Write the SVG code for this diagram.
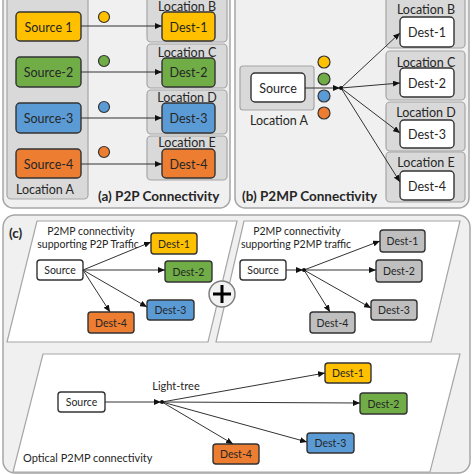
<svg xmlns="http://www.w3.org/2000/svg" width="474" height="474" viewBox="0 0 474 474">
<defs>
<marker id="ah" markerUnits="userSpaceOnUse" markerWidth="8" markerHeight="6" refX="7" refY="3" orient="auto">
<path d="M0,0 L7,3 L0,6 z" fill="#111"/>
</marker>
<style>
text{font-family:Lato,"Liberation Sans",sans-serif;fill:#262626;text-anchor:middle;dominant-baseline:central}
.panel{fill:#f0f0f0;stroke:#a6a6a6;stroke-width:1.5}
.loc{fill:#d9d9d9;stroke:#a6a6a6;stroke-width:1.2}
.box{stroke:#333;stroke-width:1.4}
.y{fill:#ffc000}.g{fill:#70ad47}.b{fill:#5b9bd5}.o{fill:#ed7d31}.w{fill:#fff}.gr{fill:#bfbfbf}
.para{fill:#fff;stroke:#a6a6a6;stroke-width:1.2}
.c line{stroke:#333;stroke-width:1;marker-end:url(#ah)}
.t12{font-size:12.5px}.t10{font-size:10.5px}.t11{font-size:11px}
.bold{font-weight:bold;font-size:13.5px;text-anchor:start}
</style>
</defs>
<rect width="474" height="474" fill="#ffffff"/>
<!-- Panel (a) -->
<g id="panelA">
<rect class="panel" x="3" y="-12" width="227" height="220" rx="10"/>
<text class="bold" x="98" y="196">(a) P2P Connectivity</text>
</g>
<g id="a-locA"><rect class="loc" x="7" y="-6" width="81" height="205" rx="4"/><text class="t12" x="45" y="189">Location A</text></g>
<g id="a-locB"><rect class="loc" x="147" y="-6" width="80" height="48" rx="4"/><text class="t12" x="187" y="6">Location B</text></g>
<g id="a-locC"><rect class="loc" x="147" y="44" width="80" height="44" rx="4"/><text class="t12" x="187" y="52">Location C</text></g>
<g id="a-locD"><rect class="loc" x="147" y="90" width="80" height="44" rx="4"/><text class="t12" x="187" y="97">Location D</text></g>
<g id="a-locE"><rect class="loc" x="147" y="136" width="80" height="44" rx="4"/><text class="t12" x="187" y="142">Location E</text></g>
<g id="a-src1"><rect class="box y" x="16" y="12" width="65" height="29" rx="4"/><text class="t12" x="48.5" y="27">Source 1</text></g>
<g id="a-src2"><rect class="box g" x="16" y="57" width="65" height="30" rx="4"/><text class="t12" x="48.5" y="72">Source-2</text></g>
<g id="a-src3"><rect class="box b" x="16" y="103" width="65" height="30" rx="4"/><text class="t12" x="48.5" y="118">Source-3</text></g>
<g id="a-src4"><rect class="box o" x="16" y="149" width="65" height="29" rx="4"/><text class="t12" x="48.5" y="164">Source-4</text></g>
<g id="a-dst1"><rect class="box y" x="162" y="12" width="53" height="29" rx="4"/><text class="t12" x="188.5" y="27">Dest-1</text></g>
<g id="a-dst2"><rect class="box g" x="162" y="58" width="53" height="29" rx="4"/><text class="t12" x="188.5" y="72">Dest-2</text></g>
<g id="a-dst3"><rect class="box b" x="162" y="103" width="53" height="30" rx="4"/><text class="t12" x="188.5" y="118">Dest-3</text></g>
<g id="a-dst4"><rect class="box o" x="162" y="149" width="53" height="29" rx="4"/><text class="t12" x="188.5" y="164">Dest-4</text></g>
<g id="a-circles" stroke="#333" stroke-width="1.2">
<circle class="y" cx="104" cy="17" r="5.5"/><circle class="g" cx="104" cy="61" r="5.5"/>
<circle class="b" cx="104" cy="107" r="5.5"/><circle class="o" cx="104" cy="152" r="5.5"/>
</g>
<!-- Panel (b) -->
<g id="panelB">
<rect class="panel" x="235" y="-12" width="234" height="220" rx="10"/>
<text class="bold" x="242" y="196">(b) P2MP Connectivity</text>
</g>
<g id="b-locA"><rect class="loc" x="240" y="66" width="74" height="44" rx="3"/><text class="t12" x="279" y="120">Location A</text></g>
<g id="b-src"><rect class="box w" x="251" y="73" width="54" height="29" rx="4"/><text class="t12" x="278" y="88">Source</text></g>
<g id="b-locB"><rect class="loc" x="386" y="-6" width="79" height="54" rx="4"/><text class="t12" x="426" y="9">Location B</text></g>
<g id="b-locC"><rect class="loc" x="386" y="51" width="79" height="49" rx="4"/><text class="t12" x="426" y="62">Location C</text></g>
<g id="b-locD"><rect class="loc" x="386" y="102" width="79" height="49" rx="4"/><text class="t12" x="426" y="112">Location D</text></g>
<g id="b-locE"><rect class="loc" x="386" y="152" width="79" height="50" rx="4"/><text class="t12" x="426" y="162">Location E</text></g>
<g id="b-dst1"><rect class="box w" x="400" y="17" width="54" height="30" rx="4"/><text class="t12" x="427" y="32">Dest-1</text></g>
<g id="b-dst2"><rect class="box w" x="400" y="68" width="54" height="29" rx="4"/><text class="t12" x="427" y="83">Dest-2</text></g>
<g id="b-dst3"><rect class="box w" x="400" y="120" width="54" height="28" rx="4"/><text class="t12" x="427" y="134">Dest-3</text></g>
<g id="b-dst4"><rect class="box w" x="400" y="171" width="54" height="29" rx="4"/><text class="t12" x="427" y="186">Dest-4</text></g>
<g id="b-circles" stroke="#333" stroke-width="1.2">
<circle class="y" cx="324" cy="62" r="6"/><circle class="g" cx="324" cy="79" r="6"/>
<circle class="b" cx="324" cy="96" r="6"/><circle class="o" cx="324" cy="113" r="6"/>
</g>
<!-- Panel (c) -->
<g id="panelC">
<rect class="panel" x="3" y="215" width="467" height="258" rx="12"/>
<text class="bold" x="9" y="233">(c)</text>
<polygon class="para" points="37,221 237,221 208,342 7,342"/>
<polygon class="para" points="244,221 460,221 431,342 216,342"/>
<polygon class="para" points="43,354 460,354 430,472 13,472"/>
</g>
<g id="plus">
<circle cx="222" cy="294" r="13" fill="#f2f2f2" stroke="#808080" stroke-width="1.5"/>
<path d="M213,294 H231 M222,285 V303" stroke="#000" stroke-width="3"/>
</g>
<g id="c1-label"><text class="t10" x="91" y="231">P2MP connectivity</text><text class="t10" x="88" y="244">supporting P2P Traffic</text></g>
<g id="c1-src"><rect class="box w" x="37" y="260" width="46" height="20" rx="3"/><text class="t10" x="60" y="270">Source</text></g>
<g id="c1-dst1"><rect class="box y" x="151" y="233" width="46" height="21" rx="3"/><text class="t10" x="174" y="243.5">Dest-1</text></g>
<g id="c1-dst2"><rect class="box g" x="165" y="261" width="47" height="21" rx="3"/><text class="t10" x="188.5" y="271.5">Dest-2</text></g>
<g id="c1-dst3"><rect class="box b" x="147" y="300" width="47" height="20" rx="3"/><text class="t10" x="170.5" y="310">Dest-3</text></g>
<g id="c1-dst4"><rect class="box o" x="88" y="312" width="46" height="21" rx="3"/><text class="t10" x="111" y="322.5">Dest-4</text></g>
<g id="c2-label"><text class="t10" x="297" y="231">P2MP connectivity</text><text class="t10" x="296" y="244">supporting P2MP traffic</text></g>
<g id="c2-src"><rect class="box w" x="240" y="260" width="46" height="20" rx="3"/><text class="t10" x="263" y="270">Source</text></g>
<g id="c2-dst1"><rect class="box gr" x="380" y="230" width="45" height="22" rx="3"/><text class="t10" x="402.5" y="241">Dest-1</text></g>
<g id="c2-dst2"><rect class="box gr" x="376" y="260" width="46" height="22" rx="3"/><text class="t10" x="399" y="271">Dest-2</text></g>
<g id="c2-dst3"><rect class="box gr" x="371" y="300" width="46" height="20" rx="3"/><text class="t10" x="394" y="310">Dest-3</text></g>
<g id="c2-dst4"><rect class="box gr" x="310" y="312" width="45" height="21" rx="3"/><text class="t10" x="332.5" y="322.5">Dest-4</text></g>
<g id="c3-labels"><text class="t11" x="176" y="385">Light-tree</text><text class="t11" x="23" y="457" style="text-anchor:start">Optical P2MP connectivity</text></g>
<g id="c3-src"><rect class="box w" x="58" y="392" width="47" height="20" rx="3"/><text class="t10" x="81.5" y="402">Source</text></g>
<g id="c3-dst1"><rect class="box y" x="325" y="363" width="46" height="20" rx="3"/><text class="t10" x="348" y="373">Dest-1</text></g>
<g id="c3-dst2"><rect class="box g" x="360" y="393" width="47" height="21" rx="3"/><text class="t10" x="383.5" y="403.5">Dest-2</text></g>
<g id="c3-dst3"><rect class="box b" x="307" y="433" width="47" height="20" rx="3"/><text class="t10" x="330.5" y="443">Dest-3</text></g>
<g id="c3-dst4"><rect class="box o" x="213" y="444" width="46" height="20" rx="3"/><text class="t10" x="236" y="454">Dest-4</text></g>
<!-- Connectors -->
<g id="connectors" class="c">
<line x1="81" y1="26" x2="162" y2="26"/>
<line x1="81" y1="72" x2="162" y2="72"/>
<line x1="81" y1="118" x2="162" y2="118"/>
<line x1="81" y1="164" x2="162" y2="164"/>
<line x1="305" y1="88" x2="340" y2="88"/>
<line x1="341" y1="88" x2="400" y2="33"/>
<line x1="341" y1="88" x2="400" y2="83"/>
<line x1="341" y1="88" x2="400" y2="133"/>
<line x1="341" y1="88" x2="400" y2="182"/>
<line x1="83" y1="270" x2="151" y2="242"/>
<line x1="83" y1="270" x2="165" y2="270"/>
<line x1="83" y1="270" x2="147" y2="307"/>
<line x1="83" y1="270" x2="110" y2="312"/>
<line x1="286" y1="270" x2="303" y2="270"/>
<line x1="304" y1="270" x2="380" y2="241"/>
<line x1="304" y1="270" x2="376" y2="270"/>
<line x1="304" y1="270" x2="371" y2="308"/>
<line x1="304" y1="270" x2="330" y2="312"/>
<line x1="105" y1="402" x2="161" y2="402"/>
<line x1="162" y1="402" x2="325" y2="373"/>
<line x1="162" y1="402" x2="360" y2="403"/>
<line x1="162" y1="402" x2="307" y2="442"/>
<line x1="162" y1="402" x2="233" y2="444"/>
<circle cx="341" cy="88" r="2" fill="#111"/>
<circle cx="304" cy="270" r="2" fill="#111"/>
<circle cx="162" cy="402" r="2" fill="#111"/>
</g>
</svg>
